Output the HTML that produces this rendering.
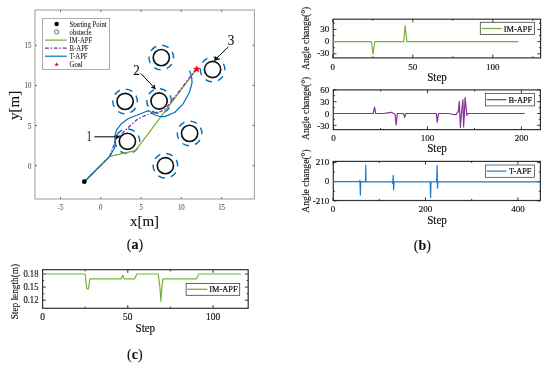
<!DOCTYPE html>
<html><head><meta charset="utf-8"><style>
html,body{margin:0;padding:0;background:#fff;width:550px;height:366px;overflow:hidden}
svg{display:block}
text{font-family:"Liberation Serif", "Times New Roman", serif}
.k{fill:#111;stroke:#111;stroke-width:0.2px}
.lg{stroke-width:0.06px;fill:#1a1a1a}
.th{stroke-width:0.12px}
.tl{stroke-width:0.16px}
.tk{fill:#505050;stroke:#505050;stroke-width:0.08px}
</style></head><body>
<svg width="550" height="366" viewBox="0 0 550 366">
<rect width="550" height="366" fill="#fff"/>
<rect x="35.0" y="10.0" width="219.4" height="189.0" fill="none" stroke="#9a9a9a" stroke-width="1"/>
<line x1="60.5" y1="199.0" x2="60.5" y2="197.0" stroke="#555" stroke-width="0.8"/>
<line x1="60.5" y1="10.0" x2="60.5" y2="12.0" stroke="#555" stroke-width="0.8"/>
<text transform="translate(60.5,210.3) scale(0.9,1)" font-size="7.6" text-anchor="middle" class="tk">-5</text>
<line x1="100.8" y1="199.0" x2="100.8" y2="197.0" stroke="#555" stroke-width="0.8"/>
<line x1="100.8" y1="10.0" x2="100.8" y2="12.0" stroke="#555" stroke-width="0.8"/>
<text transform="translate(100.8,210.3) scale(0.9,1)" font-size="7.6" text-anchor="middle" class="tk">0</text>
<line x1="141.1" y1="199.0" x2="141.1" y2="197.0" stroke="#555" stroke-width="0.8"/>
<line x1="141.1" y1="10.0" x2="141.1" y2="12.0" stroke="#555" stroke-width="0.8"/>
<text transform="translate(141.1,210.3) scale(0.9,1)" font-size="7.6" text-anchor="middle" class="tk">5</text>
<line x1="181.3" y1="199.0" x2="181.3" y2="197.0" stroke="#555" stroke-width="0.8"/>
<line x1="181.3" y1="10.0" x2="181.3" y2="12.0" stroke="#555" stroke-width="0.8"/>
<text transform="translate(181.3,210.3) scale(0.9,1)" font-size="7.6" text-anchor="middle" class="tk">10</text>
<line x1="221.6" y1="199.0" x2="221.6" y2="197.0" stroke="#555" stroke-width="0.8"/>
<line x1="221.6" y1="10.0" x2="221.6" y2="12.0" stroke="#555" stroke-width="0.8"/>
<text transform="translate(221.6,210.3) scale(0.9,1)" font-size="7.6" text-anchor="middle" class="tk">15</text>
<line x1="35.0" y1="165.6" x2="37.0" y2="165.6" stroke="#555" stroke-width="0.8"/>
<line x1="254.4" y1="165.6" x2="252.4" y2="165.6" stroke="#555" stroke-width="0.8"/>
<text transform="translate(31.3,168.6) scale(0.9,1)" font-size="7.6" text-anchor="end" class="tk">0</text>
<line x1="35.0" y1="125.5" x2="37.0" y2="125.5" stroke="#555" stroke-width="0.8"/>
<line x1="254.4" y1="125.5" x2="252.4" y2="125.5" stroke="#555" stroke-width="0.8"/>
<text transform="translate(31.3,128.5) scale(0.9,1)" font-size="7.6" text-anchor="end" class="tk">5</text>
<line x1="35.0" y1="85.4" x2="37.0" y2="85.4" stroke="#555" stroke-width="0.8"/>
<line x1="254.4" y1="85.4" x2="252.4" y2="85.4" stroke="#555" stroke-width="0.8"/>
<text transform="translate(31.3,88.4) scale(0.9,1)" font-size="7.6" text-anchor="end" class="tk">10</text>
<line x1="35.0" y1="45.3" x2="37.0" y2="45.3" stroke="#555" stroke-width="0.8"/>
<line x1="254.4" y1="45.3" x2="252.4" y2="45.3" stroke="#555" stroke-width="0.8"/>
<text transform="translate(31.3,48.3) scale(0.9,1)" font-size="7.6" text-anchor="end" class="tk">15</text>
<text x="144.5" y="225.6" font-size="15" text-anchor="middle" class="k th">x[m]</text>
<text transform="translate(19.2,105.3) rotate(-90)" x="0" y="0" font-size="15" text-anchor="middle" class="k th">y[m]</text>
<text x="135" y="248.6" font-size="14" text-anchor="middle" class="k th">(<tspan font-weight="bold">a</tspan>)</text>
<circle cx="127.4" cy="141.3" r="12.3" fill="none" stroke="#0072BD" stroke-width="1.45" stroke-dasharray="6.8 6.08" transform="rotate(-28 127.4 141.3)"/>
<circle cx="127.4" cy="141.3" r="8.1" fill="none" stroke="#111" stroke-width="1.65"/>
<circle cx="125.1" cy="101.4" r="12.3" fill="none" stroke="#0072BD" stroke-width="1.45" stroke-dasharray="6.8 6.08" transform="rotate(-28 125.1 101.4)"/>
<circle cx="125.1" cy="101.4" r="8.1" fill="none" stroke="#111" stroke-width="1.65"/>
<circle cx="159.1" cy="101.0" r="12.3" fill="none" stroke="#0072BD" stroke-width="1.45" stroke-dasharray="6.8 6.08" transform="rotate(-28 159.1 101.0)"/>
<circle cx="159.1" cy="101.0" r="8.1" fill="none" stroke="#111" stroke-width="1.65"/>
<circle cx="161.3" cy="57.6" r="12.3" fill="none" stroke="#0072BD" stroke-width="1.45" stroke-dasharray="6.8 6.08" transform="rotate(-28 161.3 57.6)"/>
<circle cx="161.3" cy="57.6" r="8.1" fill="none" stroke="#111" stroke-width="1.65"/>
<circle cx="212.6" cy="69.5" r="12.3" fill="none" stroke="#0072BD" stroke-width="1.45" stroke-dasharray="6.8 6.08" transform="rotate(-28 212.6 69.5)"/>
<circle cx="212.6" cy="69.5" r="8.1" fill="none" stroke="#111" stroke-width="1.65"/>
<circle cx="189.6" cy="133.4" r="12.3" fill="none" stroke="#0072BD" stroke-width="1.45" stroke-dasharray="6.8 6.08" transform="rotate(-28 189.6 133.4)"/>
<circle cx="189.6" cy="133.4" r="8.1" fill="none" stroke="#111" stroke-width="1.65"/>
<circle cx="165.4" cy="165.7" r="12.3" fill="none" stroke="#0072BD" stroke-width="1.45" stroke-dasharray="6.8 6.08" transform="rotate(-28 165.4 165.7)"/>
<circle cx="165.4" cy="165.7" r="8.1" fill="none" stroke="#111" stroke-width="1.65"/>
<polyline points="84.3,181.7 109.7,156.4 135.5,150.6 196.8,68.9" fill="none" stroke="#77AC30" stroke-width="1.2" stroke-linejoin="round"/>
<polyline points="84.3,181.7 109.7,156.4 112.4,149.1 115.7,139.3 120.9,134.5 130.3,125.5 136.9,119.8 142.6,116.5 150.8,113.6 156.5,112.4 160.5,111.6 164.0,110.0 167.4,106.2 182.2,87.4 196.3,68.6" fill="none" stroke="#7E2F8E" stroke-width="1.25" stroke-dasharray="3.8 1.8 1.5 1.8" stroke-linejoin="round"/>
<polyline points="84.3,181.7 109.7,156.4 114.8,147.5 115.2,142.5 114.8,136.0 116.5,130.2 121.4,123.7 128.0,118.8 136.1,115.5 144.3,112.2 148.4,110.6 150.9,112.2 154.2,114.7 159.1,116.3 164.8,116.6 174.6,112.5 182.8,104.3 189.3,92.8 192.0,83.0 191.8,78.0 190.6,73.5 189.4,70.5" fill="none" stroke="#0072BD" stroke-width="1.2" stroke-linejoin="round"/>
<circle cx="84.3" cy="181.7" r="2.4" fill="#000"/>
<polygon points="196.8,65.6 197.7,68.0 200.2,68.1 198.2,69.7 198.9,72.1 196.8,70.7 194.7,72.1 195.4,69.7 193.4,68.1 195.9,68.0" fill="#f00" stroke="#f00" stroke-width="0.4"/>
<line x1="94.4" y1="136.8" x2="116.2" y2="136.8" stroke="#000" stroke-width="1"/><polygon points="120.4,136.8 115.2,139.3 116.4,136.8 115.2,134.3" fill="#000"/>
<line x1="140.7" y1="73.4" x2="153.1" y2="86.4" stroke="#000" stroke-width="1"/><polygon points="156.0,89.4 150.6,87.4 153.2,86.5 154.2,83.9" fill="#000"/>
<line x1="228.4" y1="46.8" x2="216.8" y2="58.1" stroke="#000" stroke-width="1"/><polygon points="213.8,61.0 215.8,55.6 216.7,58.2 219.3,59.2" fill="#000"/>
<text transform="translate(89.1,141) scale(0.6,1)" font-size="14.3" text-anchor="middle" class="k">1</text>
<text transform="translate(136.5,74.8) scale(0.92,1)" font-size="14.3" text-anchor="middle" class="k th">2</text>
<text transform="translate(231.1,44.9) scale(0.92,1)" font-size="14.3" text-anchor="middle" class="k th">3</text>
<rect x="42.6" y="18.4" width="67" height="51.1" fill="#fff" stroke="#9a9a9a" stroke-width="0.8"/>
<text transform="translate(69.6,26.6) scale(0.9,1)" font-size="7.45" class="k lg">Starting Point</text>
<text transform="translate(69.6,34.5) scale(0.9,1)" font-size="7.45" class="k lg">obstacle</text>
<text transform="translate(69.6,42.7) scale(0.9,1)" font-size="7.45" class="k lg">IM-APF</text>
<text transform="translate(69.6,50.7) scale(0.9,1)" font-size="7.45" class="k lg">B-APF</text>
<text transform="translate(69.6,58.8) scale(0.9,1)" font-size="7.45" class="k lg">T-APF</text>
<text transform="translate(69.6,67.0) scale(0.9,1)" font-size="7.45" class="k lg">Goal</text>
<circle cx="56.6" cy="24" r="2.2" fill="#000"/>
<circle cx="56.6" cy="31.9" r="2.2" fill="none" stroke="#444" stroke-width="0.75"/>
<line x1="45" y1="40.1" x2="66.8" y2="40.1" stroke="#77AC30" stroke-width="1.2"/>
<line x1="45" y1="48.1" x2="66.8" y2="48.1" stroke="#7E2F8E" stroke-width="1.25" stroke-dasharray="3.8 1.8 1.5 1.8"/>
<line x1="45" y1="56.2" x2="66.8" y2="56.2" stroke="#0072BD" stroke-width="1.2"/>
<polygon points="56.6,62.3 57.2,63.8 58.8,63.9 57.5,64.9 58.0,66.5 56.6,65.6 55.2,66.5 55.7,64.9 54.4,63.9 56.0,63.8" fill="#f00"/>
<rect x="333.2" y="19.2" width="207.4" height="38.7" fill="none" stroke="#333" stroke-width="1.2"/><line x1="332.8" y1="57.9" x2="332.8" y2="54.699999999999996" stroke="#222" stroke-width="0.9"/><line x1="332.8" y1="19.2" x2="332.8" y2="22.4" stroke="#222" stroke-width="0.9"/><text x="332.8" y="69.5" font-size="9" text-anchor="middle" class="k tl">0</text><line x1="412.8" y1="57.9" x2="412.8" y2="54.699999999999996" stroke="#222" stroke-width="0.9"/><line x1="412.8" y1="19.2" x2="412.8" y2="22.4" stroke="#222" stroke-width="0.9"/><text x="412.8" y="69.5" font-size="9" text-anchor="middle" class="k tl">50</text><line x1="492.8" y1="57.9" x2="492.8" y2="54.699999999999996" stroke="#222" stroke-width="0.9"/><line x1="492.8" y1="19.2" x2="492.8" y2="22.4" stroke="#222" stroke-width="0.9"/><text x="492.8" y="69.5" font-size="9" text-anchor="middle" class="k tl">100</text><line x1="372.8" y1="57.9" x2="372.8" y2="56.3" stroke="#222" stroke-width="0.9"/><line x1="372.8" y1="19.2" x2="372.8" y2="20.8" stroke="#222" stroke-width="0.9"/><line x1="452.8" y1="57.9" x2="452.8" y2="56.3" stroke="#222" stroke-width="0.9"/><line x1="452.8" y1="19.2" x2="452.8" y2="20.8" stroke="#222" stroke-width="0.9"/><line x1="532.8" y1="57.9" x2="532.8" y2="56.3" stroke="#222" stroke-width="0.9"/><line x1="532.8" y1="19.2" x2="532.8" y2="20.8" stroke="#222" stroke-width="0.9"/><line x1="333.2" y1="29.4" x2="336.4" y2="29.4" stroke="#222" stroke-width="0.9"/><line x1="540.6" y1="29.4" x2="537.4" y2="29.4" stroke="#222" stroke-width="0.9"/><text transform="translate(329.2,32.0) scale(1.0,1)" font-size="9" text-anchor="end" class="k tl">30</text><line x1="333.2" y1="41.6" x2="336.4" y2="41.6" stroke="#222" stroke-width="0.9"/><line x1="540.6" y1="41.6" x2="537.4" y2="41.6" stroke="#222" stroke-width="0.9"/><text transform="translate(329.2,44.2) scale(1.0,1)" font-size="9" text-anchor="end" class="k tl">0</text><line x1="333.2" y1="53.8" x2="336.4" y2="53.8" stroke="#222" stroke-width="0.9"/><line x1="540.6" y1="53.8" x2="537.4" y2="53.8" stroke="#222" stroke-width="0.9"/><text transform="translate(329.2,56.4) scale(1.0,1)" font-size="9" text-anchor="end" class="k tl">-30</text><line x1="333.2" y1="23.2" x2="334.8" y2="23.2" stroke="#222" stroke-width="0.9"/><line x1="540.6" y1="23.2" x2="539.0" y2="23.2" stroke="#222" stroke-width="0.9"/><line x1="333.2" y1="35.5" x2="334.8" y2="35.5" stroke="#222" stroke-width="0.9"/><line x1="540.6" y1="35.5" x2="539.0" y2="35.5" stroke="#222" stroke-width="0.9"/><line x1="333.2" y1="47.7" x2="334.8" y2="47.7" stroke="#222" stroke-width="0.9"/><line x1="540.6" y1="47.7" x2="539.0" y2="47.7" stroke="#222" stroke-width="0.9"/>
<polyline points="332.8,41.6 371.4,41.6 373.1,54.2 374.7,41.6 403.7,41.6 405.1,25.7 406.9,41.6 518.4,41.6" fill="none" stroke="#76b33c" stroke-width="1.2" stroke-linejoin="round"/>
<text transform="translate(437,80.9) scale(0.96,1)" font-size="11.5" text-anchor="middle" class="k">Step</text>
<text transform="translate(308.8,38.3) rotate(-90)" font-size="9.6" text-anchor="middle" class="k th">Angle change(°)</text>
<rect x="480.3" y="22.3" width="54.3" height="12.1" fill="#fff" stroke="#444" stroke-width="0.8"/>
<line x1="481.7" y1="28.5" x2="501.7" y2="28.5" stroke="#76b33c" stroke-width="1.3"/>
<text x="503.8" y="31.9" font-size="8.4" class="k">IM-APF</text>
<rect x="333.3" y="89.9" width="207.1" height="39.7" fill="none" stroke="#333" stroke-width="1.2"/><line x1="333.6" y1="129.6" x2="333.6" y2="126.39999999999999" stroke="#222" stroke-width="0.9"/><line x1="333.6" y1="89.9" x2="333.6" y2="93.10000000000001" stroke="#222" stroke-width="0.9"/><text x="333.6" y="140.5" font-size="9" text-anchor="middle" class="k tl">0</text><line x1="427.5" y1="129.6" x2="427.5" y2="126.39999999999999" stroke="#222" stroke-width="0.9"/><line x1="427.5" y1="89.9" x2="427.5" y2="93.10000000000001" stroke="#222" stroke-width="0.9"/><text x="427.5" y="140.5" font-size="9" text-anchor="middle" class="k tl">100</text><line x1="521.4" y1="129.6" x2="521.4" y2="126.39999999999999" stroke="#222" stroke-width="0.9"/><line x1="521.4" y1="89.9" x2="521.4" y2="93.10000000000001" stroke="#222" stroke-width="0.9"/><text x="521.4" y="140.5" font-size="9" text-anchor="middle" class="k tl">200</text><line x1="380.6" y1="129.6" x2="380.6" y2="128.0" stroke="#222" stroke-width="0.9"/><line x1="380.6" y1="89.9" x2="380.6" y2="91.5" stroke="#222" stroke-width="0.9"/><line x1="474.5" y1="129.6" x2="474.5" y2="128.0" stroke="#222" stroke-width="0.9"/><line x1="474.5" y1="89.9" x2="474.5" y2="91.5" stroke="#222" stroke-width="0.9"/><line x1="333.3" y1="89.8" x2="336.5" y2="89.8" stroke="#222" stroke-width="0.9"/><line x1="540.4" y1="89.8" x2="537.1999999999999" y2="89.8" stroke="#222" stroke-width="0.9"/><text transform="translate(329.2,93.0) scale(1.0,1)" font-size="9" text-anchor="end" class="k tl">60</text><line x1="333.3" y1="101.7" x2="336.5" y2="101.7" stroke="#222" stroke-width="0.9"/><line x1="540.4" y1="101.7" x2="537.1999999999999" y2="101.7" stroke="#222" stroke-width="0.9"/><text transform="translate(329.2,104.8) scale(1.0,1)" font-size="9" text-anchor="end" class="k tl">30</text><line x1="333.3" y1="113.5" x2="336.5" y2="113.5" stroke="#222" stroke-width="0.9"/><line x1="540.4" y1="113.5" x2="537.1999999999999" y2="113.5" stroke="#222" stroke-width="0.9"/><text transform="translate(329.2,116.7) scale(1.0,1)" font-size="9" text-anchor="end" class="k tl">0</text><line x1="333.3" y1="125.3" x2="336.5" y2="125.3" stroke="#222" stroke-width="0.9"/><line x1="540.4" y1="125.3" x2="537.1999999999999" y2="125.3" stroke="#222" stroke-width="0.9"/><text transform="translate(329.2,128.5) scale(1.0,1)" font-size="9" text-anchor="end" class="k tl">-30</text><line x1="333.3" y1="95.7" x2="334.90000000000003" y2="95.7" stroke="#222" stroke-width="0.9"/><line x1="540.4" y1="95.7" x2="538.8" y2="95.7" stroke="#222" stroke-width="0.9"/><line x1="333.3" y1="107.6" x2="334.90000000000003" y2="107.6" stroke="#222" stroke-width="0.9"/><line x1="540.4" y1="107.6" x2="538.8" y2="107.6" stroke="#222" stroke-width="0.9"/><line x1="333.3" y1="119.4" x2="334.90000000000003" y2="119.4" stroke="#222" stroke-width="0.9"/><line x1="540.4" y1="119.4" x2="538.8" y2="119.4" stroke="#222" stroke-width="0.9"/>
<polyline points="333.6,113.5 373.2,113.5 374.6,107.0 375.6,113.5 383.8,113.5 387.7,112.9 391.2,112.3 394.0,113.5 395.1,114.3 396.1,125.0 397.3,113.5 403.5,113.5 404.7,117.2 405.9,113.5 436.3,113.5 437.3,122.1 438.5,113.5 449.5,113.5 452.9,114.5 456.1,114.7 457.3,112.5 458.3,111.5 459.3,101.3 460.4,127.5 461.6,111.5 462.9,99.7 463.6,126.9 464.4,113.5 465.1,97.5 466.9,115.5 468.0,113.5 524.7,113.5" fill="none" stroke="#84339a" stroke-width="1.2" stroke-linejoin="round"/>
<text transform="translate(437,152) scale(0.96,1)" font-size="11.5" text-anchor="middle" class="k">Step</text>
<text transform="translate(308.8,108.3) rotate(-90)" font-size="9.6" text-anchor="middle" class="k th">Angle change(°)</text>
<rect x="485.4" y="93.6" width="49" height="12.3" fill="#fff" stroke="#333" stroke-width="0.7"/>
<line x1="486.7" y1="99.7" x2="506.4" y2="99.7" stroke="#84339a" stroke-width="1.2"/>
<text x="508.5" y="102.7" font-size="8.4" class="k">B-APF</text>
<rect x="333.3" y="161.4" width="207.1" height="39.1" fill="none" stroke="#333" stroke-width="1.2"/><line x1="333.1" y1="200.5" x2="333.1" y2="197.3" stroke="#222" stroke-width="0.9"/><line x1="333.1" y1="161.4" x2="333.1" y2="164.6" stroke="#222" stroke-width="0.9"/><text x="333.1" y="211.6" font-size="9" text-anchor="middle" class="k tl">0</text><line x1="425.5" y1="200.5" x2="425.5" y2="197.3" stroke="#222" stroke-width="0.9"/><line x1="425.5" y1="161.4" x2="425.5" y2="164.6" stroke="#222" stroke-width="0.9"/><text x="425.5" y="211.6" font-size="9" text-anchor="middle" class="k tl">200</text><line x1="517.9" y1="200.5" x2="517.9" y2="197.3" stroke="#222" stroke-width="0.9"/><line x1="517.9" y1="161.4" x2="517.9" y2="164.6" stroke="#222" stroke-width="0.9"/><text x="517.9" y="211.6" font-size="9" text-anchor="middle" class="k tl">400</text><line x1="379.3" y1="200.5" x2="379.3" y2="198.9" stroke="#222" stroke-width="0.9"/><line x1="379.3" y1="161.4" x2="379.3" y2="163.0" stroke="#222" stroke-width="0.9"/><line x1="471.7" y1="200.5" x2="471.7" y2="198.9" stroke="#222" stroke-width="0.9"/><line x1="471.7" y1="161.4" x2="471.7" y2="163.0" stroke="#222" stroke-width="0.9"/><line x1="333.3" y1="162.5" x2="336.5" y2="162.5" stroke="#222" stroke-width="0.9"/><line x1="540.4" y1="162.5" x2="537.1999999999999" y2="162.5" stroke="#222" stroke-width="0.9"/><text transform="translate(329.2,165.1) scale(1.0,1)" font-size="9" text-anchor="end" class="k tl">210</text><line x1="333.3" y1="181.7" x2="336.5" y2="181.7" stroke="#222" stroke-width="0.9"/><line x1="540.4" y1="181.7" x2="537.1999999999999" y2="181.7" stroke="#222" stroke-width="0.9"/><text transform="translate(329.2,184.3) scale(1.0,1)" font-size="9" text-anchor="end" class="k tl">0</text><line x1="333.3" y1="200.9" x2="336.5" y2="200.9" stroke="#222" stroke-width="0.9"/><line x1="540.4" y1="200.9" x2="537.1999999999999" y2="200.9" stroke="#222" stroke-width="0.9"/><text transform="translate(329.2,203.5) scale(1.0,1)" font-size="9" text-anchor="end" class="k tl">-210</text><line x1="333.3" y1="172.1" x2="334.90000000000003" y2="172.1" stroke="#222" stroke-width="0.9"/><line x1="540.4" y1="172.1" x2="538.8" y2="172.1" stroke="#222" stroke-width="0.9"/><line x1="333.3" y1="191.3" x2="334.90000000000003" y2="191.3" stroke="#222" stroke-width="0.9"/><line x1="540.4" y1="191.3" x2="538.8" y2="191.3" stroke="#222" stroke-width="0.9"/>
<polyline points="333.1,181.7 359.4,181.7 359.9,180.3 360.4,195.0 360.8,181.7 365.5,181.9 365.8,165.2 366.0,181.9 392.2,181.8 392.7,183.5 393.2,175.3 393.6,189.9 394.1,181.8 430.1,181.8 430.6,197.7 431.0,181.8 436.6,181.8 437.1,165.7 437.5,188.1 438.0,181.8 540.5,181.8" fill="none" stroke="#1f7bc8" stroke-width="1.2" stroke-linejoin="round"/>
<text transform="translate(437,223.5) scale(0.96,1)" font-size="11.5" text-anchor="middle" class="k">Step</text>
<text transform="translate(308.8,181) rotate(-90)" font-size="9.6" text-anchor="middle" class="k th">Angle change(°)</text>
<rect x="485.4" y="165" width="49" height="12.3" fill="#fff" stroke="#333" stroke-width="0.7"/>
<line x1="486.7" y1="171.1" x2="506.4" y2="171.1" stroke="#1f7bc8" stroke-width="1.2"/>
<text x="509" y="174.1" font-size="8.4" class="k">T-APF</text>
<text x="422.3" y="249.6" font-size="14" text-anchor="middle" class="k th">(<tspan font-weight="bold">b</tspan>)</text>
<rect x="42.6" y="269.7" width="205.6" height="38.6" fill="none" stroke="#333" stroke-width="1.2"/><line x1="42.5" y1="308.3" x2="42.5" y2="305.1" stroke="#222" stroke-width="0.9"/><line x1="42.5" y1="269.7" x2="42.5" y2="272.9" stroke="#222" stroke-width="0.9"/><text x="42.5" y="320.4" font-size="9.4" text-anchor="middle" class="k tl">0</text><line x1="127.8" y1="308.3" x2="127.8" y2="305.1" stroke="#222" stroke-width="0.9"/><line x1="127.8" y1="269.7" x2="127.8" y2="272.9" stroke="#222" stroke-width="0.9"/><text x="127.8" y="320.4" font-size="9.4" text-anchor="middle" class="k tl">50</text><line x1="213.1" y1="308.3" x2="213.1" y2="305.1" stroke="#222" stroke-width="0.9"/><line x1="213.1" y1="269.7" x2="213.1" y2="272.9" stroke="#222" stroke-width="0.9"/><text x="213.1" y="320.4" font-size="9.4" text-anchor="middle" class="k tl">100</text><line x1="85.2" y1="308.3" x2="85.2" y2="306.7" stroke="#222" stroke-width="0.9"/><line x1="85.2" y1="269.7" x2="85.2" y2="271.3" stroke="#222" stroke-width="0.9"/><line x1="170.4" y1="308.3" x2="170.4" y2="306.7" stroke="#222" stroke-width="0.9"/><line x1="170.4" y1="269.7" x2="170.4" y2="271.3" stroke="#222" stroke-width="0.9"/><line x1="42.6" y1="274.0" x2="45.800000000000004" y2="274.0" stroke="#222" stroke-width="0.9"/><line x1="248.2" y1="274.0" x2="245.0" y2="274.0" stroke="#222" stroke-width="0.9"/><text transform="translate(38.5,276.6) scale(0.9,1)" font-size="9.6" text-anchor="end" class="k tl">0.18</text><line x1="42.6" y1="287.1" x2="45.800000000000004" y2="287.1" stroke="#222" stroke-width="0.9"/><line x1="248.2" y1="287.1" x2="245.0" y2="287.1" stroke="#222" stroke-width="0.9"/><text transform="translate(38.5,289.7) scale(0.9,1)" font-size="9.6" text-anchor="end" class="k tl">0.15</text><line x1="42.6" y1="300.2" x2="45.800000000000004" y2="300.2" stroke="#222" stroke-width="0.9"/><line x1="248.2" y1="300.2" x2="245.0" y2="300.2" stroke="#222" stroke-width="0.9"/><text transform="translate(38.5,302.8) scale(0.9,1)" font-size="9.6" text-anchor="end" class="k tl">0.12</text><line x1="42.6" y1="280.6" x2="44.2" y2="280.6" stroke="#222" stroke-width="0.9"/><line x1="248.2" y1="280.6" x2="246.6" y2="280.6" stroke="#222" stroke-width="0.9"/><line x1="42.6" y1="293.7" x2="44.2" y2="293.7" stroke="#222" stroke-width="0.9"/><line x1="248.2" y1="293.7" x2="246.6" y2="293.7" stroke="#222" stroke-width="0.9"/>
<polyline points="42.5,274.0 85.2,274.0 86.2,284.9 86.9,288.8 88.4,288.8 89.1,284.9 89.8,278.8 121.3,278.8 122.7,275.3 124.0,278.8 134.6,278.8 137.0,274.0 158.3,274.0 159.9,287.1 160.9,301.3 161.9,287.1 162.9,278.8 196.6,278.8 198.8,274.0 241.1,274.0" fill="none" stroke="#76b33c" stroke-width="1.2" stroke-linejoin="round"/>
<text transform="translate(145.3,331.6) scale(0.96,1)" font-size="11.5" text-anchor="middle" class="k">Step</text>
<text transform="translate(18.3,291.6) rotate(-90)" font-size="9.3" text-anchor="middle" class="k th">Step length(m)</text>
<rect x="186.1" y="283.5" width="53.6" height="11.8" fill="#fff" stroke="#444" stroke-width="0.8"/>
<line x1="187.4" y1="289.3" x2="207.5" y2="289.3" stroke="#76b33c" stroke-width="1.3"/>
<text x="209.2" y="292.4" font-size="8.4" class="k">IM-APF</text>
<text x="134.9" y="359.2" font-size="14" text-anchor="middle" class="k th">(<tspan font-weight="bold">c</tspan>)</text>
</svg>
</body></html>
